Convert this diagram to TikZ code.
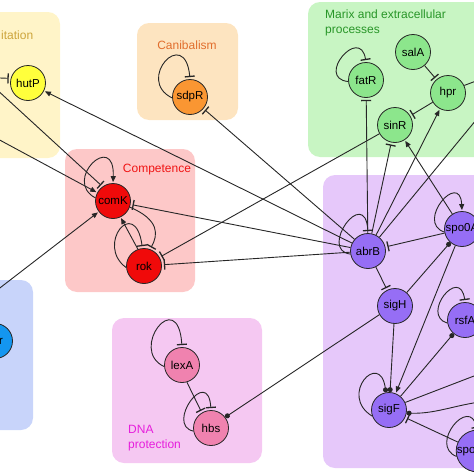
\documentclass[tikz,border=0pt]{standalone}
\usepackage{fontspec}
\setmainfont{Liberation Sans}
\usetikzlibrary{arrows.meta}
\definecolor{ybox}{RGB}{255,244,200}
\definecolor{ynode}{RGB}{255,255,60}
\definecolor{ytext}{RGB}{205,165,60}
\definecolor{obox}{RGB}{253,228,192}
\definecolor{onode}{RGB}{250,150,50}
\definecolor{otext}{RGB}{225,110,45}
\definecolor{gbox}{RGB}{200,245,195}
\definecolor{gnode}{RGB}{140,230,140}
\definecolor{gtext}{RGB}{40,150,40}
\definecolor{rbox}{RGB}{253,200,200}
\definecolor{rnode}{RGB}{240,10,10}
\definecolor{rtext}{RGB}{240,20,20}
\definecolor{pbox}{RGB}{230,200,250}
\definecolor{pnode}{RGB}{150,110,245}
\definecolor{kbox}{RGB}{245,200,242}
\definecolor{knode}{RGB}{240,130,175}
\definecolor{ktext}{RGB}{230,30,220}
\definecolor{bbox}{RGB}{200,212,250}
\definecolor{bnode}{RGB}{20,150,240}
\tikzset{
  nd/.style={circle, draw=black!85, line width=0.8pt, minimum size=35pt, inner sep=0pt,
    font=\fontsize{11.5}{13}\selectfont},
  grp/.style={rounded corners=12pt, draw=none},
  ttl/.style={font=\fontsize{12}{15}\selectfont, inner sep=0pt},
  edge/.style={line width=0.9pt, draw=black!85},
  act/.style={edge, -{Triangle[length=6pt,width=5pt]}, shorten >=1pt},
  inh/.style={edge, -{Bar[width=10pt,line width=1.3pt]}, shorten >=2pt},
  dotted end/.style={edge, -{Circle[length=5pt]}},
}
\begin{document}
\begin{tikzpicture}[x=1pt,y=-1pt]
\useasboundingbox (0,0) rectangle (474,474);
\clip (0,0) rectangle (474,474);
% group boxes
\fill[grp, ybox] (-30,12) rectangle (60,158);
\fill[grp, obox] (137,23) rectangle (238,120);
\fill[grp, gbox] (308,2) rectangle (520,157);
\fill[grp, rbox] (65,149) rectangle (195,292);
\fill[grp, pbox] (323,175) rectangle (520,468);
\fill[grp, kbox] (112,318) rectangle (262,463);
\fill[grp, bbox] (-30,280) rectangle (33,430);
% titles
\node[ttl, ytext, anchor=west] (tExp) at (1,35) {itation};
\node[ttl, otext] (tCan) at (187,45) {Canibalism};
\node[ttl, gtext, anchor=north west, align=left] (tMat) at (325,10) {Marix and extracellular\\processes};
\node[ttl, rtext] (tCom) at (157,170) {Competence};
\node[ttl, ktext, anchor=north west, align=left] (tDNA) at (128,425) {DNA\\protection};
% nodes
\node[nd, fill=ynode] (hutP) at (28,83) {hutP};
\node[nd, fill=onode] (sdpR) at (190,97) {sdpR};
\node[nd, fill=rnode] (comK) at (113,201) {comK};
\node[nd, fill=rnode] (rok) at (144,266) {rok};
\node[nd, fill=gnode] (fatR) at (366,80) {fatR};
\node[nd, fill=gnode] (salA) at (413,52) {salA};
\node[nd, fill=gnode] (hpr) at (448,93) {hpr};
\node[nd, fill=gnode] (sinR) at (395,125) {sinR};
\node[nd, fill=pnode] (abrB) at (368,251) {abrB};
\node[nd, fill=pnode] (spo0A) at (462,229) {spo0A};
\node[nd, fill=pnode] (sigH) at (395,306) {sigH};
\node[nd, fill=pnode] (rsfA) at (465,320) {rsfA};
\node[nd, fill=pnode] (sigF) at (389,410) {sigF};
\node[nd, fill=pnode] (spoX) at (477,451) {spoIIAB};
\node[nd, fill=knode] (lexA) at (182,365) {lexA};
\node[nd, fill=knode] (hbs) at (211,428) {hbs};
\node[nd, fill=bnode] (blue) at (-5,341) {\hspace*{12pt}r};
% off-canvas ends
\coordinate (offA) at (-30,65);
\coordinate (offB) at (-30,124);
\coordinate (offC) at (-30,311);
\coordinate (offD) at (-30,77);
\coordinate (offE) at (500,91);
\coordinate (offH) at (500,72);
\coordinate (offF) at (500,366);
\coordinate (offG) at (500,400);
% edges from abrB
\draw[act] (abrB) -- (hutP);
\draw[inh] (abrB) -- (sdpR);
\draw[inh] (abrB) -- (comK);
\draw[inh] (abrB) -- (rok);
\draw[inh] (abrB) -- (fatR);
\draw[inh] (abrB) -- (sinR);
\draw[act] (abrB) -- (hpr);
\draw[edge] (abrB) -- (offE);
\draw[inh] (abrB) -- (sigH);
\draw[inh] (abrB.190) .. controls (318,250) and (365,185) .. (abrB.north);
% competence
\draw[inh] (sinR) -- (rok);
\draw[inh] (offA) -- (comK.126);
\draw[act] (offB) -- (comK.152);
\draw[act] (offC) -- (comK.217);
\draw[act] (comK.170) .. controls (62,180) and (115,130) .. (comK.north);
\draw[inh] (comK.-20) .. controls (160,220) and (158,235) .. (rok.70);
\draw[act] (rok.110) -- (comK.-65);
\draw[inh] (rok.185) .. controls (95,245) and (135,195) .. (rok.95);
% exploitation / cannibalism
\draw[inh] (offD) -- (hutP.165);
\draw[inh] (sdpR.183) .. controls (135,80) and (185,25) .. (sdpR.north);
% matrix
\draw[inh] (fatR.185) .. controls (315,78) and (360,25) .. (fatR.north);
\draw[inh] (salA) -- (hpr);
\draw[inh] (hpr) -- (sinR);
\draw[edge] (hpr.25) -- (offH);
% sporulation
\draw[inh] (spo0A) -- (abrB);
\draw[act] (spo0A) -- (sinR);
\draw[act] (spo0A.190) .. controls (415,222) and (460,170) .. (spo0A.north);
\draw[dotted end] (sigH) -- (spo0A);
\draw[act] (spo0A) -- (sigF);
\draw[dotted end] (sigH) -- (sigF);
\draw[dotted end] (sigF.200) .. controls (338,395) and (380,350) .. (sigF.100);
\draw[dotted end] (sigF) -- (rsfA);
\draw[inh] (rsfA.190) .. controls (420,315) and (460,265) .. (rsfA.north);
\draw[inh] (spoX) -- (sigF);
\draw[inh] (spoX.195) .. controls (428,445) and (470,395) .. (spoX.north);
\draw[edge] (sigF.25) -- (offF);
\draw[dotted end] (offG) .. controls (460,402) and (440,414) .. (sigF.-10);
% DNA protection
\draw[inh] (lexA.185) .. controls (128,350) and (178,285) .. (lexA.north);
\draw[inh] (lexA.-74) -- (hbs.121);
\draw[inh] (hbs.190) .. controls (165,425) and (208,365) .. (hbs.north);
\draw[dotted end] (sigH.209) -- (hbs.37);
\end{tikzpicture}
\end{document}
